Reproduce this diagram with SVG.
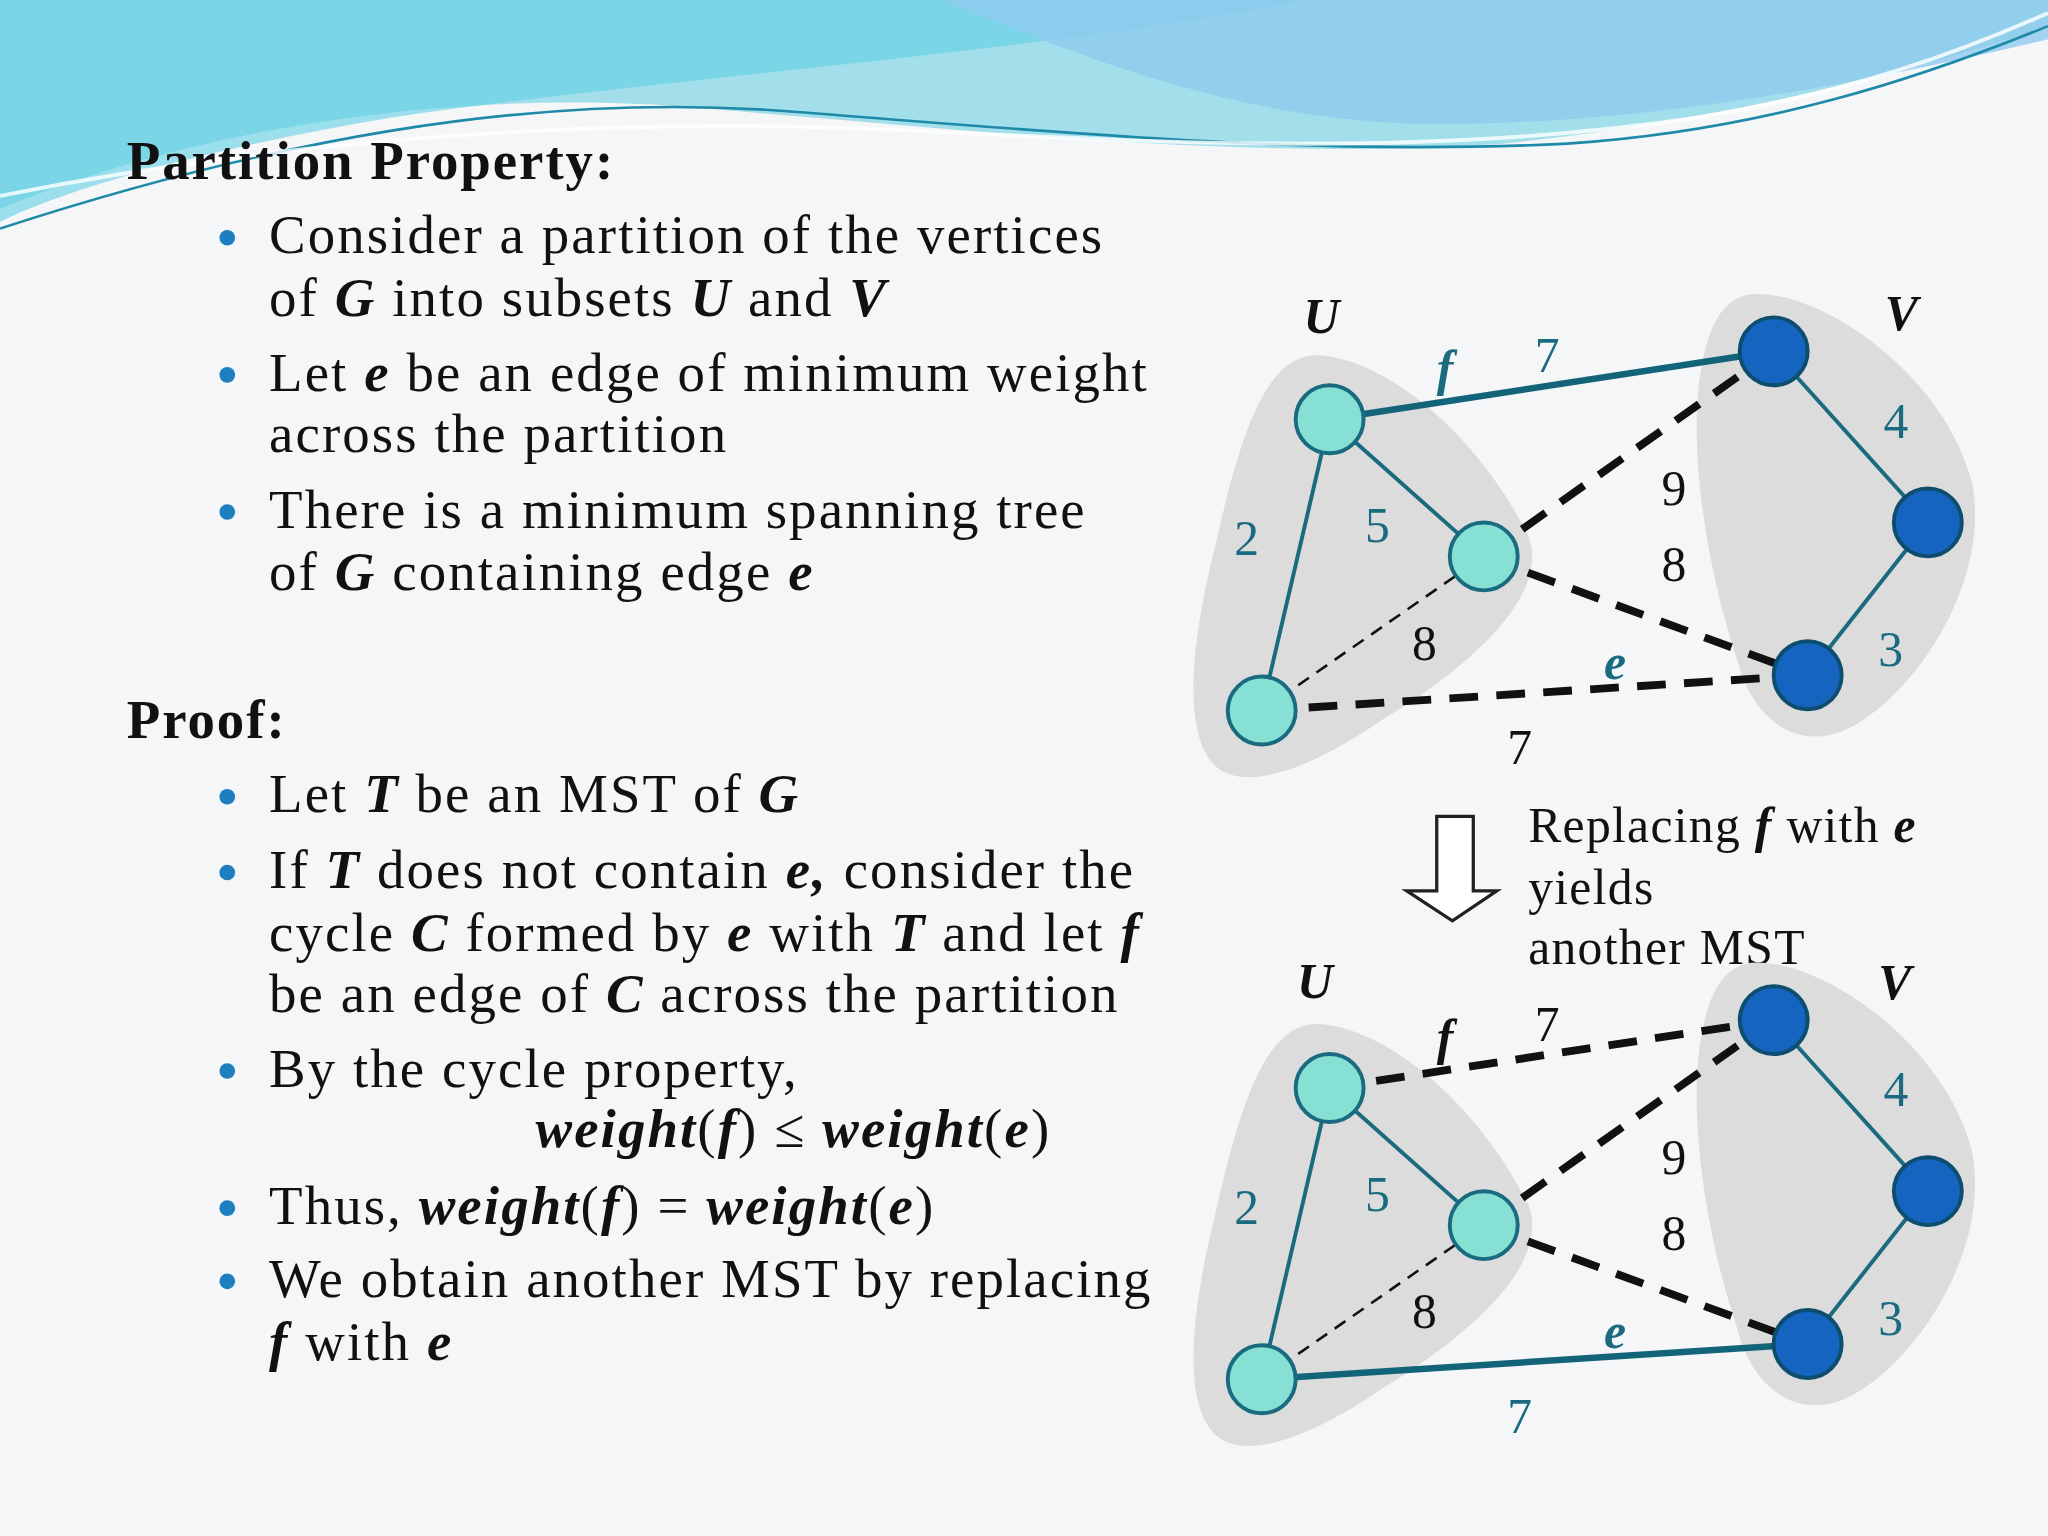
<svg xmlns="http://www.w3.org/2000/svg" width="2048" height="1536" viewBox="0 0 2048 1536">
<style>
.t{font-family:"Liberation Serif","DejaVu Serif",serif;font-size:42px;fill:#111;letter-spacing:1.6px}
.b{font-weight:bold;font-style:italic}
.h{font-family:"Liberation Serif",serif;font-size:42px;font-weight:bold;fill:#111;letter-spacing:1.5px}
.dot{fill:#1e7fc0}
.lbl{font-family:"Liberation Serif",serif;font-size:38px;fill:#1a6b80}
.lk{font-family:"Liberation Serif",serif;font-size:38px;fill:#111}
.blob{fill:#dcdcdc}
.te{stroke:#1a6b80;stroke-width:3;fill:none}
.tt{stroke:#136379;stroke-width:5;fill:none}
.dk{stroke:#111;stroke-width:6;stroke-dasharray:22 14;fill:none}
.dt{stroke:#111;stroke-width:2;stroke-dasharray:10 7;fill:none}
.nl{fill:#86e0d4;stroke:#1a6b80;stroke-width:3}
.nd{fill:#1565c0;stroke:#0d4d6e;stroke-width:3}
</style>
<rect width="2048" height="1536" fill="#f4f6f8"/>
<g transform="scale(1.30612)">
<g id="background">
<path d="M0 0 H1568 V20 C1450 60 1300 95 1150 110 C950 125 700 95 500 80 C300 70 120 110 0 160 Z" fill="#7fd6e6" opacity="0.7"/>
<path d="M0 0 H1000 C800 40 500 60 300 90 C180 110 60 140 0 170 Z" fill="#5fd0e4" opacity="0.6"/>
<path d="M720 0 H1568 V30 C1400 70 1250 95 1100 95 C950 95 820 40 720 0 Z" fill="#8fcbee" opacity="0.8"/>
<path d="M0 175 C200 110 400 70 600 85 C800 100 1000 120 1200 110 C1350 100 1470 60 1568 20" stroke="#1f8aa8" stroke-width="2" fill="none"/>
<path d="M0 150 C250 100 500 90 700 100 C900 110 1100 120 1300 90 C1420 70 1500 40 1568 10" stroke="#ffffff" stroke-width="3" fill="none" opacity="0.8"/>
</g>
<g id="text">
<text class="h" x="97" y="137">Partition Property:</text>
<circle class="dot" cx="174" cy="182" r="6"/>
<text class="t" x="206" y="194">Consider a partition of the vertices</text>
<text class="t" x="206" y="242">of <tspan class="b">G</tspan> into subsets <tspan class="b">U</tspan> and <tspan class="b">V</tspan></text>
<circle class="dot" cx="174" cy="287" r="6"/>
<text class="t" x="206" y="299">Let <tspan class="b">e</tspan> be an edge of minimum weight</text>
<text class="t" x="206" y="346">across the partition</text>
<circle class="dot" cx="174" cy="392" r="6"/>
<text class="t" x="206" y="404">There is a minimum spanning tree</text>
<text class="t" x="206" y="452">of <tspan class="b">G</tspan> containing edge <tspan class="b">e</tspan></text>
<text class="h" x="97" y="565">Proof:</text>
<circle class="dot" cx="174" cy="610" r="6"/>
<text class="t" x="206" y="622">Let <tspan class="b">T</tspan> be an MST of <tspan class="b">G</tspan></text>
<circle class="dot" cx="174" cy="668" r="6"/>
<text class="t" x="206" y="680">If <tspan class="b">T</tspan> does not contain <tspan class="b">e,</tspan> consider the</text>
<text class="t" x="206" y="728">cycle <tspan class="b">C</tspan> formed by <tspan class="b">e</tspan> with <tspan class="b">T</tspan> and let  <tspan class="b">f</tspan></text>
<text class="t" x="206" y="775">be an edge of <tspan class="b">C</tspan> across the partition</text>
<circle class="dot" cx="174" cy="820" r="6"/>
<text class="t" x="206" y="832">By the cycle property,</text>
<text class="t" x="410" y="878"><tspan class="b">weight</tspan>(<tspan class="b">f</tspan>) ≤ <tspan class="b">weight</tspan>(<tspan class="b">e</tspan>)</text>
<circle class="dot" cx="174" cy="925" r="6"/>
<text class="t" x="206" y="937">Thus, <tspan class="b">weight</tspan>(<tspan class="b">f</tspan>) = <tspan class="b">weight</tspan>(<tspan class="b">e</tspan>)</text>
<circle class="dot" cx="174" cy="981" r="6"/>
<text class="t" x="206" y="993">We obtain another MST by replacing</text>
<text class="t" x="206" y="1041"><tspan class="b">f</tspan>  with <tspan class="b">e</tspan></text>
<text class="t" x="1170" y="645" style="font-size:38px;letter-spacing:1px">Replacing <tspan class="b">f</tspan> with <tspan class="b">e</tspan></text>
<text class="t" x="1170" y="692" style="font-size:38px;letter-spacing:1px">yields</text>
<text class="t" x="1170" y="738" style="font-size:38px;letter-spacing:1px">another MST</text>
</g>
<g id="arrow"><path d="M1100 625 H1128 V682 H1146 L1112 705 L1077 682 H1100 Z" fill="#fff" stroke="#222" stroke-width="2.5"/></g>
<g id="graph-top">
<path class="blob" d="M1010 272 C1060 275 1130 330 1170 410 C1190 460 1110 520 1060 550 C1010 585 960 605 935 590 C905 570 910 500 930 420 C950 330 970 270 1010 272 Z"/>
<path class="blob" d="M1345 225 C1400 225 1490 290 1510 370 C1525 450 1460 540 1410 560 C1370 575 1340 545 1330 505 C1305 430 1290 330 1305 270 C1312 240 1325 225 1345 225 Z"/>
<g id="connectors-top">
<line class="tt" x1="1018" y1="321" x2="1358" y2="269"/>
<line class="te" x1="1018" y1="321" x2="1136" y2="426"/>
<line class="te" x1="1018" y1="321" x2="966" y2="544"/>
<line class="dt" x1="966" y1="544" x2="1136" y2="426"/>
<line class="dk" x1="1136" y1="426" x2="1358" y2="269"/>
<line class="dk" x1="1136" y1="426" x2="1384" y2="517"/>
<line class="dk" x1="966" y1="544" x2="1384" y2="517"/>
<line class="te" x1="1358" y1="269" x2="1476" y2="400"/>
<line class="te" x1="1476" y1="400" x2="1384" y2="517"/>
</g>
<g id="n1"><circle class="nl" cx="1018" cy="321" r="26"/></g>
<g id="n2"><circle class="nl" cx="1136" cy="426" r="26"/></g>
<g id="n3"><circle class="nl" cx="966" cy="544" r="26"/></g>
<g id="n4"><circle class="nd" cx="1358" cy="269" r="26"/></g>
<g id="n5"><circle class="nd" cx="1476" cy="400" r="26"/></g>
<g id="n6"><circle class="nd" cx="1384" cy="517" r="26"/></g>
<text class="lk b" x="998" y="255">U</text>
<text class="lk b" x="1443" y="253">V</text>
<text class="lbl b" x="1100" y="295">f</text>
<text class="lbl" x="1175" y="285">7</text>
<text class="lbl" x="1442" y="335">4</text>
<text class="lbl" x="945" y="425">2</text>
<text class="lbl" x="1045" y="415">5</text>
<text class="lk" x="1272" y="387">9</text>
<text class="lk" x="1272" y="445">8</text>
<text class="lk" x="1081" y="505">8</text>
<text class="lbl b" x="1228" y="520">e</text>
<text class="lbl" x="1438" y="510">3</text>
<text class="lk" x="1154" y="585">7</text>
</g>
<g id="graph-bottom" transform="translate(0,512)">
<path class="blob" d="M1010 272 C1060 275 1130 330 1170 410 C1190 460 1110 520 1060 550 C1010 585 960 605 935 590 C905 570 910 500 930 420 C950 330 970 270 1010 272 Z"/>
<path class="blob" d="M1345 225 C1400 225 1490 290 1510 370 C1525 450 1460 540 1410 560 C1370 575 1340 545 1330 505 C1305 430 1290 330 1305 270 C1312 240 1325 225 1345 225 Z"/>
<g id="connectors-bottom">
<line class="dk" x1="1018" y1="321" x2="1358" y2="269"/>
<line class="te" x1="1018" y1="321" x2="1136" y2="426"/>
<line class="te" x1="1018" y1="321" x2="966" y2="544"/>
<line class="dt" x1="966" y1="544" x2="1136" y2="426"/>
<line class="dk" x1="1136" y1="426" x2="1358" y2="269"/>
<line class="dk" x1="1136" y1="426" x2="1384" y2="517"/>
<line class="tt" x1="966" y1="544" x2="1384" y2="517"/>
<line class="te" x1="1358" y1="269" x2="1476" y2="400"/>
<line class="te" x1="1476" y1="400" x2="1384" y2="517"/>
</g>
<g id="m1"><circle class="nl" cx="1018" cy="321" r="26"/></g>
<g id="m2"><circle class="nl" cx="1136" cy="426" r="26"/></g>
<g id="m3"><circle class="nl" cx="966" cy="544" r="26"/></g>
<g id="m4"><circle class="nd" cx="1358" cy="269" r="26"/></g>
<g id="m5"><circle class="nd" cx="1476" cy="400" r="26"/></g>
<g id="m6"><circle class="nd" cx="1384" cy="517" r="26"/></g>
<text class="lk b" x="993" y="252">U</text>
<text class="lk b" x="1438" y="253">V</text>
<text class="lk b" x="1100" y="295">f</text>
<text class="lk" x="1175" y="285">7</text>
<text class="lbl" x="1442" y="335">4</text>
<text class="lbl" x="945" y="425">2</text>
<text class="lbl" x="1045" y="415">5</text>
<text class="lk" x="1272" y="387">9</text>
<text class="lk" x="1272" y="445">8</text>
<text class="lk" x="1081" y="505">8</text>
<text class="lbl b" x="1228" y="520">e</text>
<text class="lbl" x="1438" y="510">3</text>
<text class="lbl" x="1154" y="585">7</text>
</g>
</g>
</svg>
